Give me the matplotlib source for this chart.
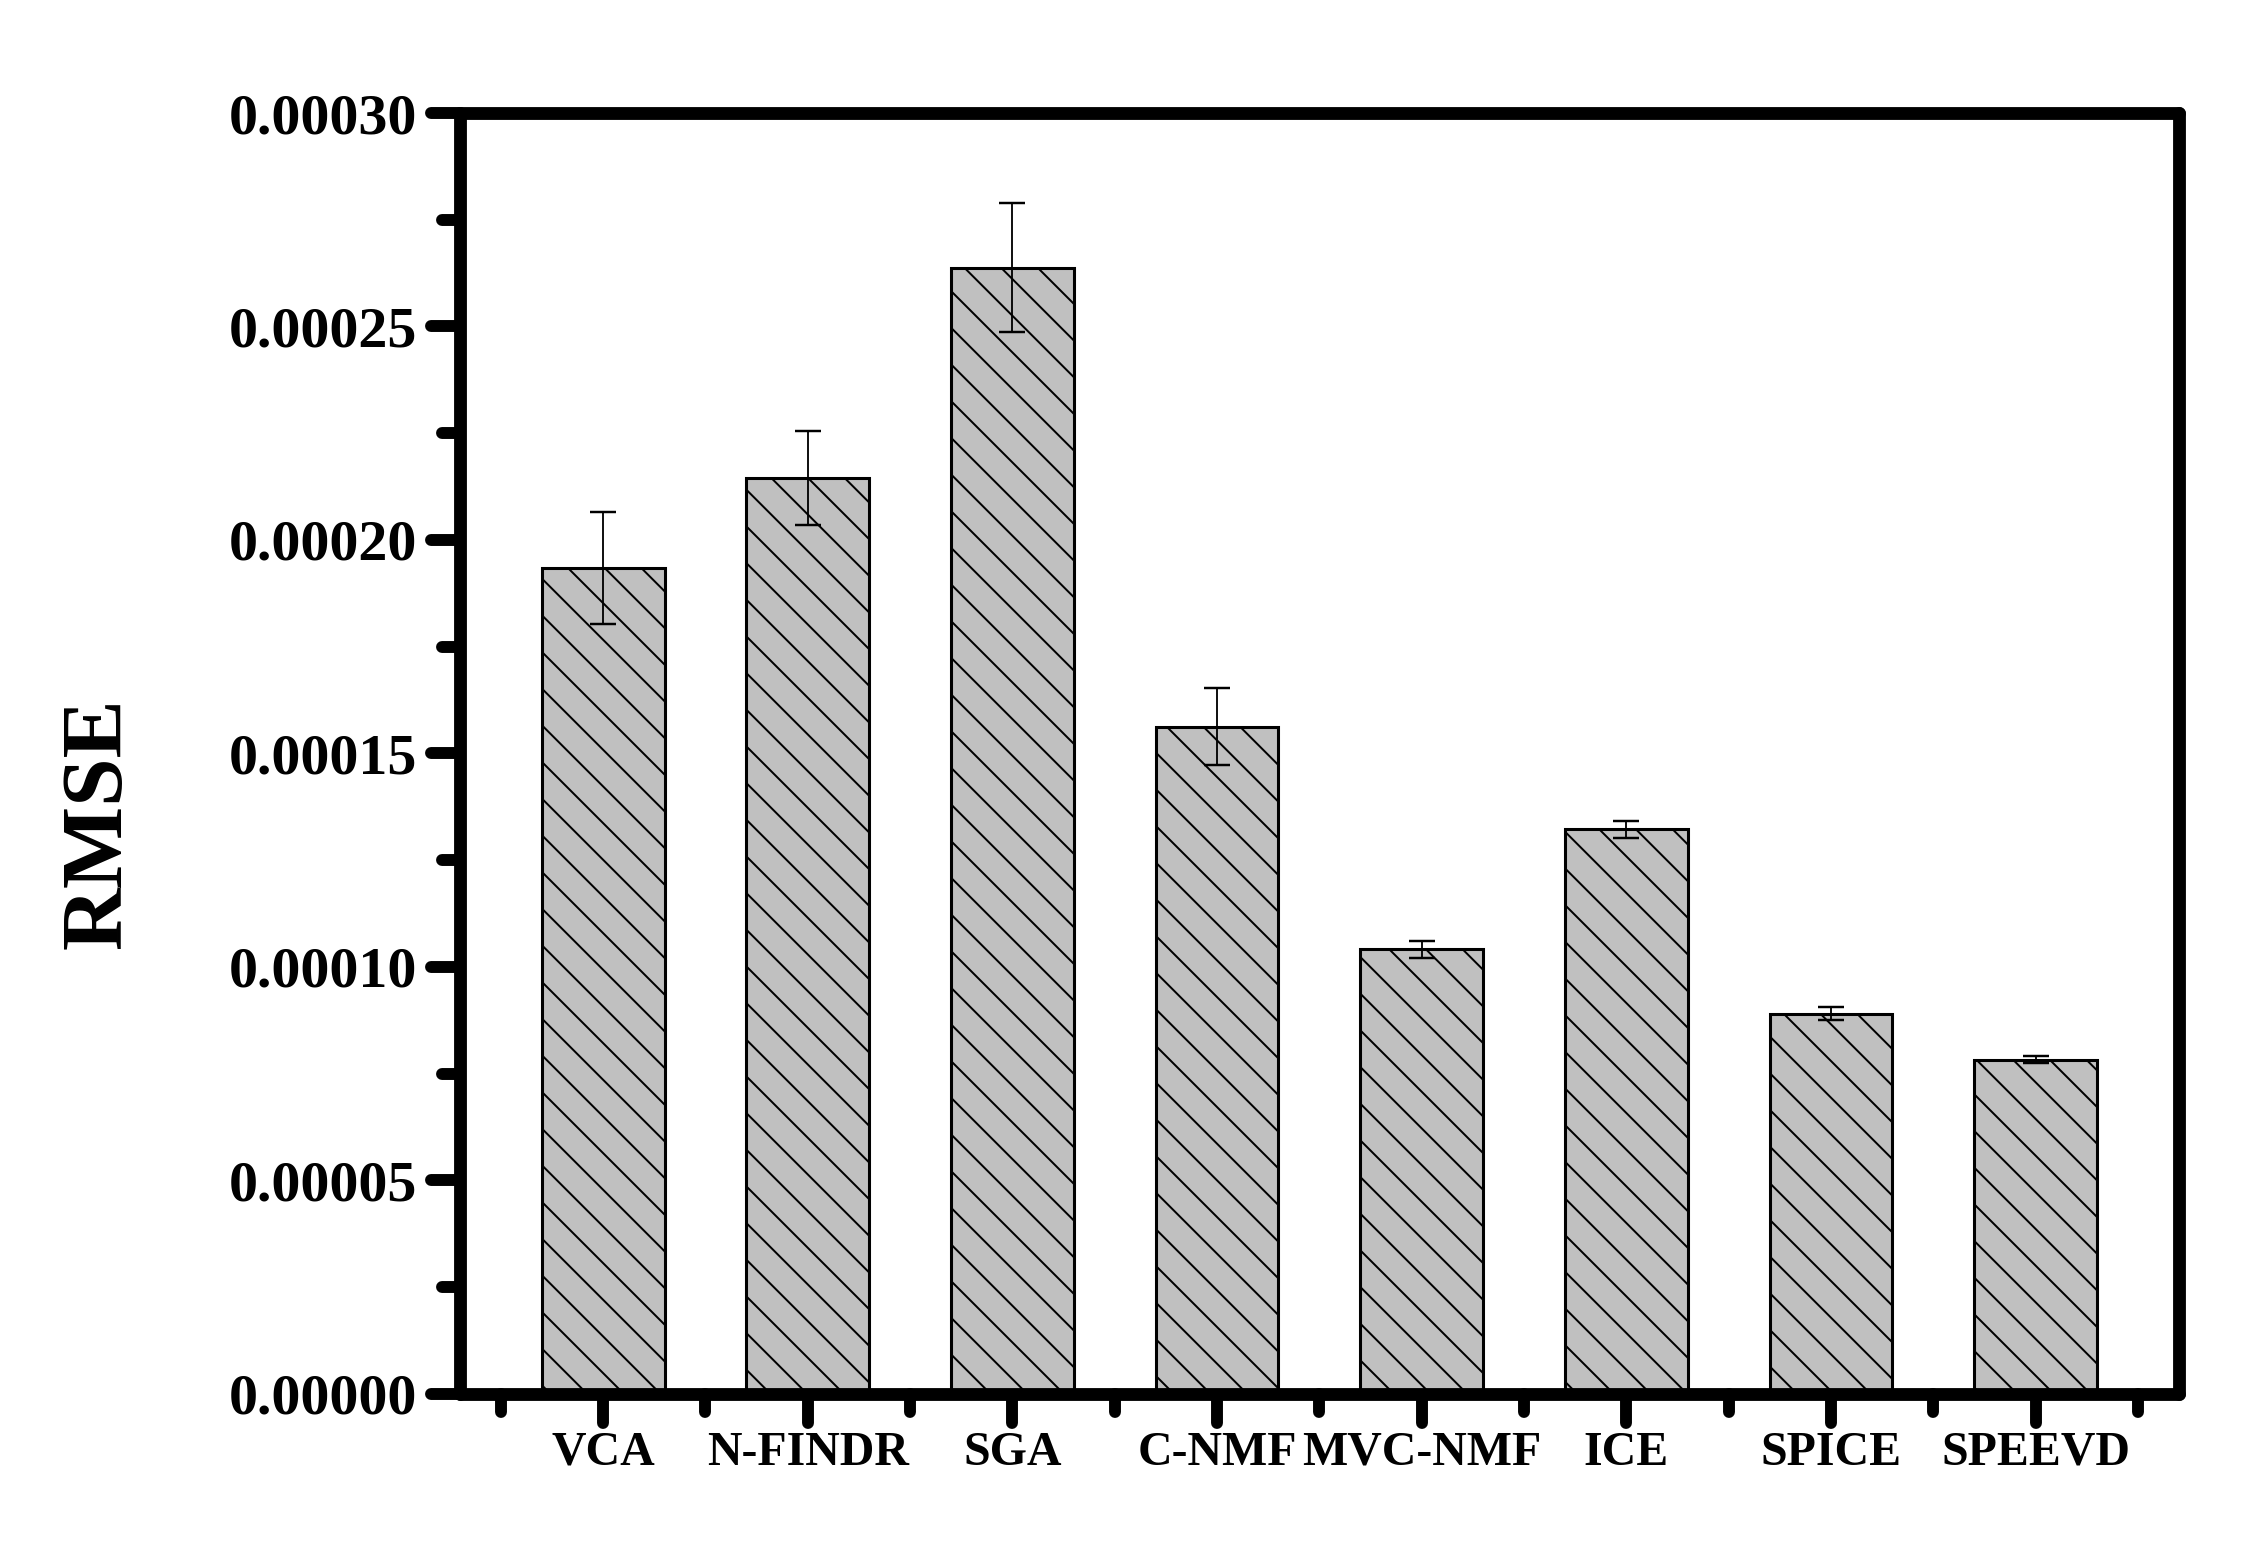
import matplotlib
matplotlib.use("Agg")
import matplotlib.pyplot as plt
from matplotlib.markers import MarkerStyle, TICKDOWN, TICKLEFT
import numpy as np

methods = ["VCA", "N-FINDR", "SGA", "C-NMF", "MVC-NMF", "ICE", "SPICE", "SPEEVD"]
rmse = [0.0001935, 0.0002145, 0.0002638, 0.0001563, 0.0001042, 0.0001323, 0.0000891, 0.0000783]
rmse_err = [0.0000131, 0.0000111, 0.0000151, 0.0000091, 0.0000020, 0.0000020, 0.0000015, 0.0000009]
y_ticks = [0.0, 0.00005, 0.00010, 0.00015, 0.00020, 0.00025, 0.00030]

plt.rcParams["font.family"] = ["Liberation Serif", "DejaVu Serif"]
plt.rcParams["font.weight"] = "bold"
plt.rcParams["hatch.linewidth"] = 0.65
plt.rcParams["hatch.color"] = "black"

DPI = 220
fig = plt.figure(figsize=(2250 / DPI, 1548 / DPI), dpi=DPI)
ax = fig.add_axes([0.2044, 0.0995, 0.764, 0.8275])

x = np.arange(1, len(methods) + 1)
ax.bar(x, rmse, width=0.6, color="#c0c0c0", edgecolor="black", linewidth=1.0,
       hatch="\\\\", zorder=2)
ax.errorbar(x, rmse, yerr=rmse_err, fmt="none", ecolor="black", elinewidth=0.6,
            capsize=4.2, capthick=0.8, zorder=3)

ax.set_xlim(0.3, 8.7)
ax.set_ylim(0, 0.0003)

ax.set_xticks(x)
ax.set_xticklabels(methods, fontsize=15.7, fontweight="bold")
ax.set_xticks(np.arange(0.5, 9.0, 1.0), minor=True)
ax.set_yticks(y_ticks)
ax.set_yticklabels(["%.5f" % v for v in y_ticks], fontsize=19, fontweight="bold")
ax.set_yticks(np.arange(0.000025, 0.0003, 0.00005), minor=True)

ax.tick_params(axis="both", which="major", direction="out", length=9.6, width=3.9)
ax.tick_params(axis="both", which="minor", direction="out", length=5.8, width=3.9)
ax.tick_params(axis="x", which="major", pad=2.5)
ax.tick_params(axis="y", which="major", pad=4.5)
ax.tick_params(top=False, right=False, which="both")

for side in ["left", "right", "top", "bottom"]:
    ax.spines[side].set_linewidth(4.2)
    ax.spines[side].set_capstyle("round")
    ax.spines[side].set_zorder(4)

for t in ax.xaxis.get_major_ticks() + ax.xaxis.get_minor_ticks():
    t.tick1line.set_marker(MarkerStyle(TICKDOWN, capstyle="round"))
for t in ax.yaxis.get_major_ticks() + ax.yaxis.get_minor_ticks():
    t.tick1line.set_marker(MarkerStyle(TICKLEFT, capstyle="round"))

fig.text(0.0445, 0.468, "RMSE", rotation=90, ha="center", va="center",
         fontsize=28.5, fontweight="bold")

fig.savefig("out.png", dpi=DPI, facecolor="white")
